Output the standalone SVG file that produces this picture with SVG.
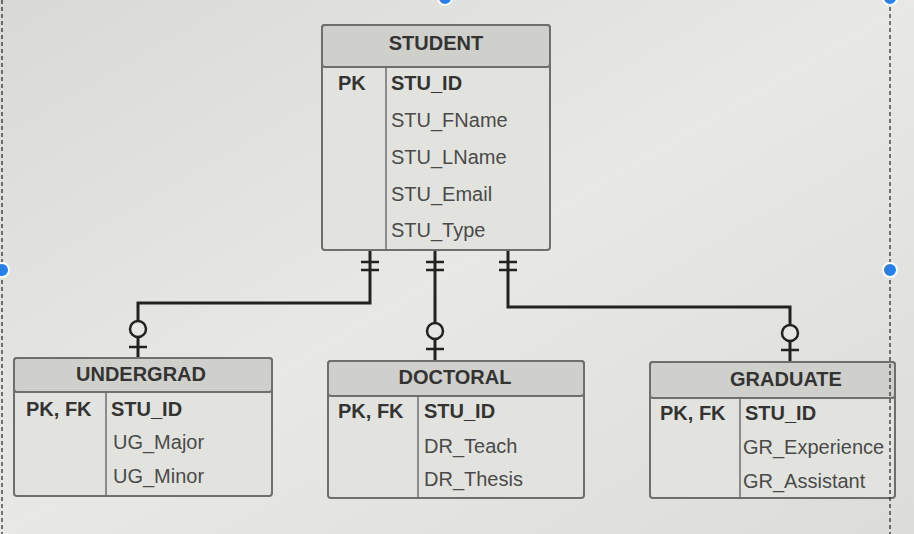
<svg xmlns="http://www.w3.org/2000/svg" width="914" height="534" viewBox="0 0 914 534">
<defs>
<linearGradient id="bg" x1="0" y1="0" x2="1" y2="1"><stop offset="0" stop-color="#d9d9d6"/><stop offset="0.5" stop-color="#e8e8e5"/><stop offset="1" stop-color="#dcdcd8"/></linearGradient>
<style>
.box{fill:#e2e3df;stroke:#6e6e6e;stroke-width:2}
.hd{fill:#cfd0cc;stroke:#6e6e6e;stroke-width:2}
.ln{stroke:#6e6e6e;stroke-width:1.5}
.t{font-family:"Liberation Sans",Arial,sans-serif;font-size:20px;fill:#4a4a4a}
.b{font-weight:bold;fill:#333}
.c{stroke:#222;stroke-width:3;fill:none}
.o{stroke:#222;stroke-width:2.5;fill:#e6e6e3}
.sel{stroke:#222;stroke-width:1.2;stroke-dasharray:4 3;fill:none}
.h{fill:#2a7ee8;stroke:#fff;stroke-width:2}
</style>
</defs>
<rect width="914" height="534" fill="url(#bg)"/>
<g id="connectors">
<path class="c" d="M370 250 V303 H138 V358"/>
<path class="c" d="M435 250 V361"/>
<path class="c" d="M508 250 V307 H790 V362"/>
<g stroke="#222" stroke-width="2.5">
<line x1="361" y1="262" x2="379" y2="262"/><line x1="361" y1="270" x2="379" y2="270"/>
<line x1="426" y1="262" x2="444" y2="262"/><line x1="426" y1="270" x2="444" y2="270"/>
<line x1="499" y1="262" x2="517" y2="262"/><line x1="499" y1="270" x2="517" y2="270"/>
<line x1="129" y1="347" x2="147" y2="347"/>
<line x1="426" y1="349" x2="444" y2="349"/>
<line x1="781" y1="350" x2="799" y2="350"/>
</g>
<circle class="o" cx="138" cy="329" r="8"/>
<circle class="o" cx="435" cy="331" r="8"/>
<circle class="o" cx="790" cy="333" r="8"/>
</g>
<g id="student">
<rect class="box" x="322" y="25" width="228" height="225" rx="3"/>
<rect class="hd" x="322" y="25" width="228" height="42" rx="3"/>
<line class="ln" x1="386" y1="67" x2="386" y2="250"/>
<text class="t b" x="436" y="50" text-anchor="middle">STUDENT</text>
<text class="t b" x="338" y="90">PK</text>
<text class="t b" x="391" y="90">STU_ID</text>
<text class="t" x="391" y="127">STU_FName</text>
<text class="t" x="391" y="164">STU_LName</text>
<text class="t" x="391" y="201">STU_Email</text>
<text class="t" x="391" y="237">STU_Type</text>
</g>
<g id="undergrad">
<rect class="box" x="14" y="358" width="258" height="138" rx="3"/>
<rect class="hd" x="14" y="358" width="258" height="34" rx="3"/>
<line class="ln" x1="106" y1="392" x2="106" y2="496"/>
<text class="t b" x="141" y="381" text-anchor="middle" font-size="18">UNDERGRAD</text>
<text class="t b" x="26" y="416" font-size="18">PK, FK</text>
<text class="t b" x="111" y="416" font-size="18">STU_ID</text>
<text class="t" x="113" y="449" font-size="18">UG_Major</text>
<text class="t" x="113" y="483" font-size="18">UG_Minor</text>
</g>
<g id="doctoral">
<rect class="box" x="328" y="361" width="256" height="137" rx="3"/>
<rect class="hd" x="328" y="361" width="256" height="35" rx="3"/>
<line class="ln" x1="418" y1="396" x2="418" y2="498"/>
<text class="t b" x="455" y="384" text-anchor="middle" font-size="18">DOCTORAL</text>
<text class="t b" x="338" y="418" font-size="18">PK, FK</text>
<text class="t b" x="424" y="418" font-size="18">STU_ID</text>
<text class="t" x="424" y="453" font-size="18">DR_Teach</text>
<text class="t" x="424" y="486" font-size="18">DR_Thesis</text>
</g>
<g id="graduate">
<rect class="box" x="650" y="362" width="245" height="136" rx="3"/>
<rect class="hd" x="650" y="362" width="245" height="36" rx="3"/>
<line class="ln" x1="740" y1="398" x2="740" y2="498"/>
<text class="t b" x="786" y="386" text-anchor="middle" font-size="18">GRADUATE</text>
<text class="t b" x="660" y="420" font-size="18">PK, FK</text>
<text class="t b" x="745" y="420" font-size="18">STU_ID</text>
<text class="t" x="743" y="454" font-size="18">GR_Experience</text>
<text class="t" x="743" y="488" font-size="18">GR_Assistant</text>
</g>
<g id="selection">
<line class="sel" x1="2" y1="0" x2="2" y2="534"/>
<line class="sel" x1="890" y1="0" x2="890" y2="534"/>
<circle class="h" cx="445" cy="-2" r="7"/>
<circle class="h" cx="890" cy="-2" r="7"/>
<circle class="h" cx="2" cy="270" r="7"/>
<circle class="h" cx="890" cy="270" r="7"/>
</g>
</svg>
